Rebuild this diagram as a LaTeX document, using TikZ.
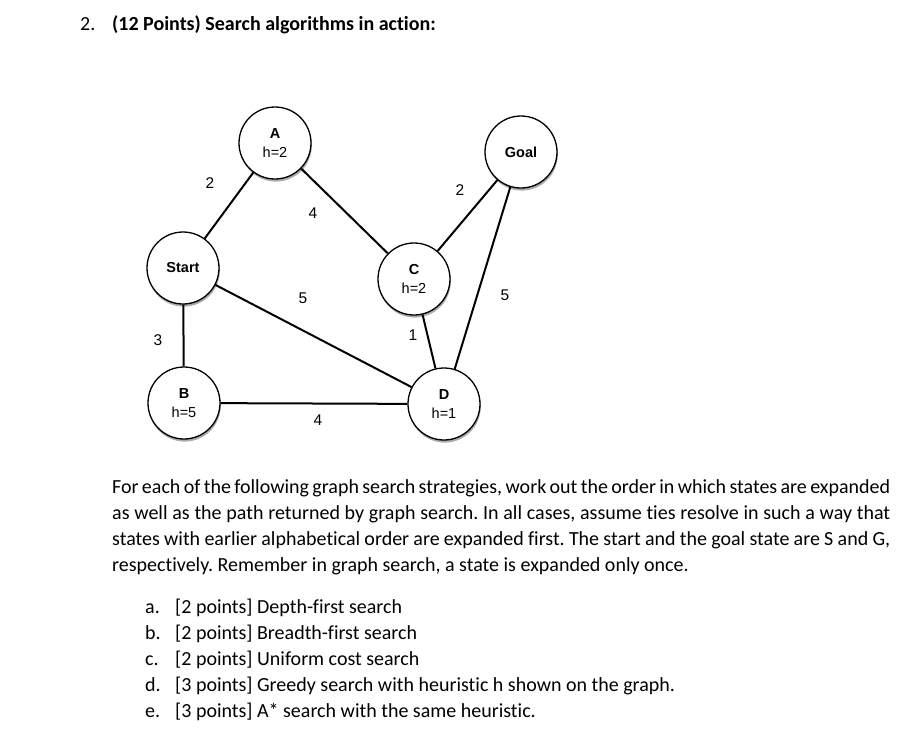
\documentclass[tikz,border=0pt]{standalone}
\usepackage{fontspec}
\setmainfont{Carlito}[Ligatures=NoCommon]
\newfontfamily\graphfont{Liberation Sans}
\usetikzlibrary{shadows}
\frenchspacing

\tikzset{
  state/.style={circle, draw, fill=white, line width=1.3pt, minimum size=72pt,
    inner sep=0pt, align=center, font=\graphfont\fontsize{14.5}{19}\selectfont,
    drop shadow={shadow xshift=0.8pt, shadow yshift=-2.6pt, fill=black!55, opacity=0.6}},
  link/.style={line width=2pt},
  cost/.style={font=\graphfont\fontsize{15.5}{18}\selectfont, inner sep=0pt},
  body/.style={font=\fontsize{20}{26}\selectfont, inner sep=0pt},
}

\begin{document}
\begin{tikzpicture}[x=1pt, y=-1pt]
	\useasboundingbox (0,0) rectangle (912,736);
	
	% Heading
	\node[body, anchor=base west] (num) at (80,30) {2.};
	\node[body, anchor=base west, font=\bfseries\fontsize{20}{26}\selectfont] (title) at (112,30) {(12 Points) Search algorithms in action:};
	
	%% GRAPH
	% States
	\node[state] (A) at (275,143) {\textbf{A}\\h=2};
	\node[state] (G) at (521,152) {\textbf{Goal}};
	\node[state] (S) at (183,268) {\textbf{Start}};
	\node[state] (C) at (414,279) {\textbf{C}\\h=2};
	\node[state] (B) at (184,403) {\textbf{B}\\h=5};
	\node[state] (D) at (444,404) {\textbf{D}\\h=1};
	
	% Links and costs
	\draw[link] (S) -- (A) node[cost, midway, shift={(-19,-22.5)}] (sa) {2};
	\draw[link] (A) -- (C) node[cost, midway, shift={(-31.5,2)}] (ac) {4};
	\draw[link] (C) -- (G) node[cost, midway, shift={(-7.5,-25.5)}] (cg) {2};
	\draw[link] (S) -- (D) node[cost, midway, shift={(-10.5,-38)}] (sd) {5};
	\draw[link] (G) -- (D) node[cost, midway, shift={(22.5,17)}] (gd) {5};
	\draw[link] (C) -- (D) node[cost, midway, shift={(-16,-6.5)}] (cd) {1};
	\draw[link] (S) -- (B) node[cost, midway, shift={(-25.5,4.5)}] (sb) {3};
	\draw[link] (B) -- (D) node[cost, midway, shift={(4,16.5)}] (bd) {4};
	
	%% TEXT
	% Intro
	\node[body, anchor=base west, text width=778pt, align=justify] (intro) at (112,493)
	{For each of the following graph search strategies, work out the order in which states are expanded\linebreak
	as well as the path returned by graph search. In all cases, assume ties resolve in such a way that\linebreak
	states with earlier alphabetical order are expanded first. The start and the goal state are S and G,\linebreak
	respectively. Remember in graph search, a state is expanded only once.};
	
	% Questions
	\foreach \lab/\txt [count=\i] in {a./{[2 points] Depth-first search},
		b./{[2 points] Breadth-first search},
		c./{[2 points] Uniform cost search},
		d./{[3 points] Greedy search with heuristic h shown on the graph.},
		e./{[3 points] A* search with the same heuristic.}}
	{
		\node[body, anchor=base west] (lab\i) at (145,587+26*\i) {\lab};
		\node[body, anchor=base west] (item\i) at (175,587+26*\i) {\txt};
	}
	
\end{tikzpicture}
\end{document}
